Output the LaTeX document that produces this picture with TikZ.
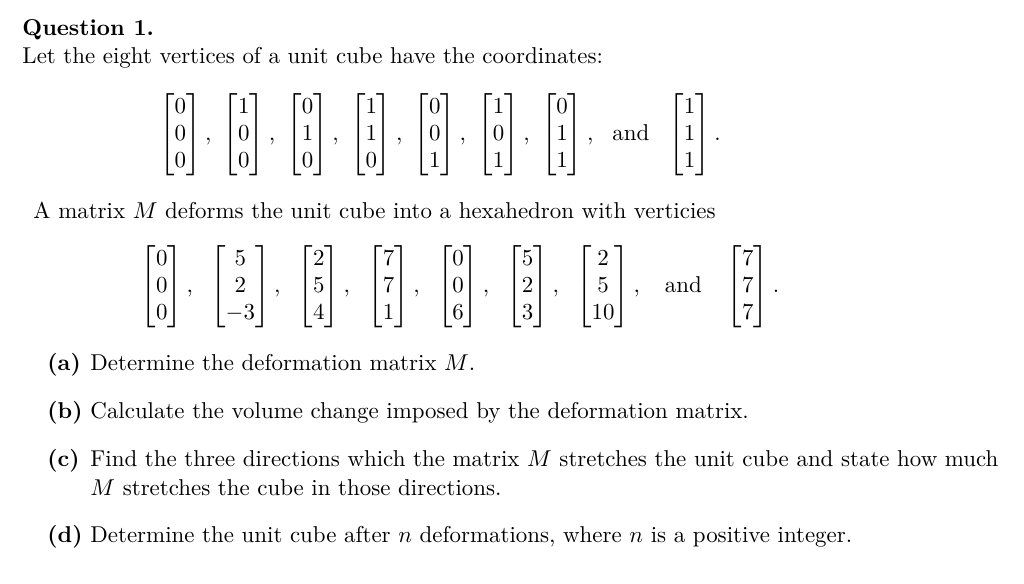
\documentclass[tikz,border=0pt]{standalone}
\usepackage{amsmath}
\newcommand{\gp}{\ \hspace{2.6pt}}
\begin{document}
\begin{tikzpicture}[x=1bp,y=-1bp,
  txt/.style={anchor=base west,inner sep=0pt,font=\fontsize{10}{12}\selectfont,scale=2.3,transform shape},
  mrow/.style={anchor=center,inner sep=0pt,font=\fontsize{10}{12}\selectfont,scale=2.3,transform shape}]
\useasboundingbox (0,0) rectangle (1024,584);
\node[txt] (q) at (22,36) {\textbf{Question 1.}};
\node[txt] (l1) at (22,64) {Let the eight vertices of a unit cube have the coordinates:};
\node[mrow] (m1) at (440,135) {$\begin{bmatrix}0\\0\\0\end{bmatrix},\ \begin{bmatrix}1\\0\\0\end{bmatrix},\ \begin{bmatrix}0\\1\\0\end{bmatrix},\ \begin{bmatrix}1\\1\\0\end{bmatrix},\ \begin{bmatrix}0\\0\\1\end{bmatrix},\ \begin{bmatrix}1\\0\\1\end{bmatrix},\ \begin{bmatrix}0\\1\\1\end{bmatrix},\ \text{ and }\ \begin{bmatrix}1\\1\\1\end{bmatrix}.$};
\node[txt] (l2) at (33,219) {A matrix $M$ deforms the unit cube into a hexahedron with verticies};
\node[mrow] (m2) at (460,287) {$\begin{bmatrix}0\\0\\0\end{bmatrix},\gp\begin{bmatrix}5\\2\\-3\end{bmatrix},\gp\begin{bmatrix}2\\5\\4\end{bmatrix},\gp\begin{bmatrix}7\\7\\1\end{bmatrix},\gp\begin{bmatrix}0\\0\\6\end{bmatrix},\gp\begin{bmatrix}5\\2\\3\end{bmatrix},\gp\begin{bmatrix}2\\5\\10\end{bmatrix},\gp\text{ and }\gp\begin{bmatrix}7\\7\\7\end{bmatrix}.$};
\node[txt] (a) at (47,370) {\textbf{(a)}};
\node[txt] (at) at (90,370) {Determine the deformation matrix $M$.};
\node[txt] (b) at (47,418) {\textbf{(b)}};
\node[txt] (bt) at (90,418) {Calculate the volume change imposed by the deformation matrix.};
\node[txt] (c) at (47,466) {\textbf{(c)}};
\node[txt] (ct) at (90,466) {Find the three directions which the matrix $M$ stretches the unit cube and state how much};
\node[txt] (ct2) at (90,495) {$M$ stretches the cube in those directions.};
\node[txt] (d) at (47,542) {\textbf{(d)}};
\node[txt] (dt) at (90,542) {Determine the unit cube after $n$ deformations, where $n$ is a positive integer.};
\end{tikzpicture}
\end{document}
